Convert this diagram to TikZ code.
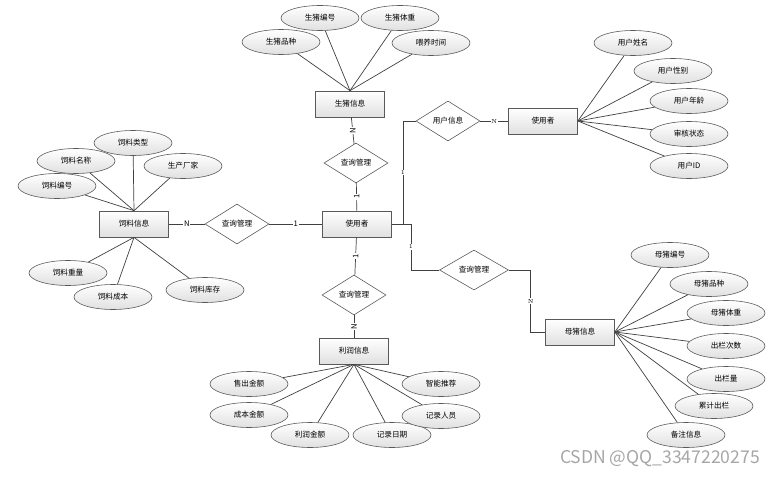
\documentclass[tikz,border=0pt]{standalone}
\usepackage{fontspec}
\newfontfamily\cjk{Noto Sans CJK SC}
\usetikzlibrary{shapes.geometric,positioning}

\tikzset{
  entity/.style={rectangle,draw=black!65,line width=0.6pt,top color=white,bottom color=black!12,
    minimum width=2.07cm,minimum height=0.78cm,inner sep=1pt},
  relation/.style={diamond,draw=black!65,line width=0.5pt,fill=white,
    minimum width=1.92cm,minimum height=1.2cm,inner sep=0pt},
  attr/.style={ellipse,draw=black!65,line width=0.5pt,top color=white,bottom color=black!12,
    minimum width=2.34cm,minimum height=0.75cm,inner sep=0pt},
  conn/.style={draw=black!75,line width=0.6pt},
  card/.style={fill=white,inner sep=0.8pt,font=\cjk\fontsize{6.5}{7}\selectfont},
  tiny card/.style={fill=white,inner sep=0.5pt,font=\rmfamily\fontsize{5}{5}\selectfont}
}

\begin{document}
\begin{tikzpicture}[x=0.03cm,y=-0.03cm,font=\cjk\fontsize{6.5}{8}\selectfont]
   \useasboundingbox (0,0) rectangle (783,479);

   % entities
   \node[entity] (e_pig)    at (350,104) {生猪信息};
   \node[entity] (e_feed)   at (134,224) {饲料信息};
   \node[entity] (e_user)   at (357,224) {使用者};
   \node[entity] (e_info)   at (543,121) {使用者};
   \node[entity] (e_sow)    at (580,332) {母猪信息};
   \node[entity] (e_profit) at (354,351) {利润信息};

   % relations
   \node[relation] (r_pig)    at (356,163) {查询管理};
   \node[relation] (r_user)   at (448,121) {用户信息};
   \node[relation] (r_feed)   at (237,224) {查询管理};
   \node[relation] (r_profit) at (354,295) {查询管理};
   \node[relation,minimum width=2.07cm] (r_sow) at (474,270) {查询管理};

   % attributes
   \node[attr] (a_pig1) at (281,42) {生猪品种};
   \node[attr] (a_pig2) at (320,18) {生猪编号};
   \node[attr] (a_pig3) at (400,18) {生猪体重};
   \node[attr] (a_pig4) at (431,43) {喂养时间};

   \node[attr] (a_feed1) at (133,143) {饲料类型};
   \node[attr] (a_feed2) at (76,161)  {饲料名称};
   \node[attr] (a_feed3) at (57,186)  {饲料编号};
   \node[attr] (a_feed4) at (183,166) {生产厂家};
   \node[attr] (a_feed5) at (68,273)  {饲料重量};
   \node[attr] (a_feed6) at (113,297) {饲料成本};
   \node[attr] (a_feed7) at (205,290) {饲料库存};

   \node[attr] (a_user1) at (633,43)  {用户姓名};
   \node[attr] (a_user2) at (673,71)  {用户性别};
   \node[attr] (a_user3) at (689,101) {用户年龄};
   \node[attr] (a_user4) at (689,134) {审核状态};
   \node[attr] (a_user5) at (689,166) {用户ID};

   \node[attr] (a_sow1) at (670,255) {母猪编号};
   \node[attr] (a_sow2) at (709,284) {母猪品种};
   \node[attr] (a_sow3) at (726,313) {母猪体重};
   \node[attr] (a_sow4) at (726,346) {出栏次数};
   \node[attr] (a_sow5) at (726,379) {出栏量};
   \node[attr] (a_sow6) at (714,406) {累计出栏};
   \node[attr] (a_sow7) at (686,435) {备注信息};

   \node[attr] (a_pro1) at (249,384) {售出金额};
   \node[attr] (a_pro2) at (249,415) {成本金额};
   \node[attr] (a_pro3) at (310,435) {利润金额};
   \node[attr] (a_pro4) at (392,435) {记录日期};
   \node[attr] (a_pro5) at (441,416) {记录人员};
   \node[attr] (a_pro6) at (441,384) {智能推荐};

   \node[font=\cjk\fontsize{15}{15}\selectfont,text=black!35] (wm) at (660,459) {CSDN @QQ\_3347220275};

    % attribute links
    \path[conn]
    (e_pig.north) edge (a_pig1) edge (a_pig2) edge (a_pig3) edge (a_pig4)
    (e_feed.north) edge (a_feed1) edge (a_feed2) edge (a_feed3) edge (a_feed4)
    (e_feed.south) edge (a_feed5) edge (a_feed6) edge (a_feed7)
    (e_info.east) edge (a_user1) edge (a_user2) edge (a_user3) edge (a_user4) edge (a_user5)
    (e_sow.east) edge (a_sow1) edge (a_sow2) edge (a_sow3) edge (a_sow4)
                 edge (a_sow5) edge (a_sow6) edge (a_sow7)
    (e_profit.south) edge (a_pro1) edge (a_pro2) edge (a_pro3)
                     edge (a_pro4) edge (a_pro5) edge (a_pro6);

    % relation links
    \path[conn]
    (e_pig) edge node[card,rotate=90] {N} (r_pig)
    (r_pig) edge node[card,rotate=90] {1} (e_user)
    (e_feed) edge node[card] {N} (r_feed)
    (r_feed) edge node[card] {1} (e_user)
    (e_user) edge node[card,rotate=90] {1} (r_profit)
    (r_profit) edge node[card,rotate=90] {N} (e_profit)
    (r_user) edge node[tiny card] {N} (e_info);

    \draw[conn] (e_user.east) -- ++(11,0) |- (r_user.west) node[tiny card,pos=0.25] {1};
    \draw[conn] (e_user.east) -- ++(19,0) |- (r_sow.west) node[tiny card,pos=0.25] {1};
    \draw[conn] (r_sow.east) -- ++(22,0) |- (e_sow.west) node[tiny card,pos=0.25] {N};

\end{tikzpicture}
\end{document}
